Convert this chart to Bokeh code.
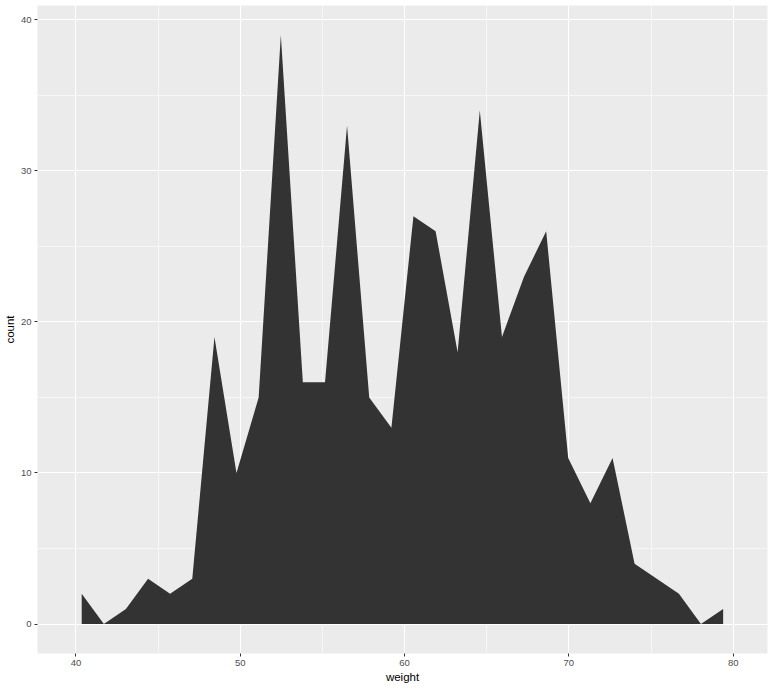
from bokeh.plotting import figure
from bokeh.models import Range1d, SingleIntervalTicker
from bokeh.embed import file_html
from bokeh.resources import INLINE

# Bin centres (weight) and counts
weight = [40.35, 41.70, 43.04, 44.39, 45.73, 47.08, 48.43, 49.77, 51.12, 52.47,
          53.81, 55.16, 56.50, 57.85, 59.20, 60.54, 61.89, 63.23, 64.58, 65.93,
          67.27, 68.62, 69.96, 71.31, 72.66, 74.00, 75.35, 76.70, 78.04, 79.39]
count = [2, 0, 1, 3, 2, 3, 19, 10, 15, 39,
         16, 16, 33, 15, 13, 27, 26, 18, 34, 19,
         23, 26, 11, 8, 11, 4, 3, 2, 0, 1]

x_label = "weight"
y_label = "count"

p = figure(width=773, height=689, output_backend="svg", toolbar_location=None,
           x_range=Range1d(37.66, 82.09), y_range=Range1d(-1.95, 40.95),
           min_border_left=37, min_border_right=6, min_border_top=5, min_border_bottom=36)
p.background_fill_color = "#EBEBEB"
p.border_fill_color = "white"
p.outline_line_color = None

p.varea(x=weight, y1=0, y2=count, fill_color="#333333")

p.xaxis.ticker = SingleIntervalTicker(interval=10, num_minor_ticks=2)
p.yaxis.ticker = SingleIntervalTicker(interval=10, num_minor_ticks=2)
p.xaxis.axis_label = x_label
p.yaxis.axis_label = y_label

for ax in p.axis:
    ax.axis_line_color = None
    ax.major_tick_line_color = "#333333"
    ax.major_tick_out = 3
    ax.major_tick_in = 0
    ax.minor_tick_line_color = None
    ax.major_label_text_color = "#4D4D4D"
    ax.major_label_text_font = "Liberation Sans"
    ax.major_label_text_font_size = "9.5px"
    ax.major_label_standoff = 2
    ax.axis_label_text_font = "Liberation Sans"
    ax.axis_label_text_font_size = "11.5px"
    ax.axis_label_text_font_style = "normal"
    ax.axis_label_text_color = "black"
    ax.axis_label_standoff = 2

p.grid.grid_line_color = "white"
p.grid.grid_line_width = 1.1
p.grid.minor_grid_line_color = "white"
p.grid.minor_grid_line_width = 0.55

open("out.html", "w").write(file_html(p, INLINE))
